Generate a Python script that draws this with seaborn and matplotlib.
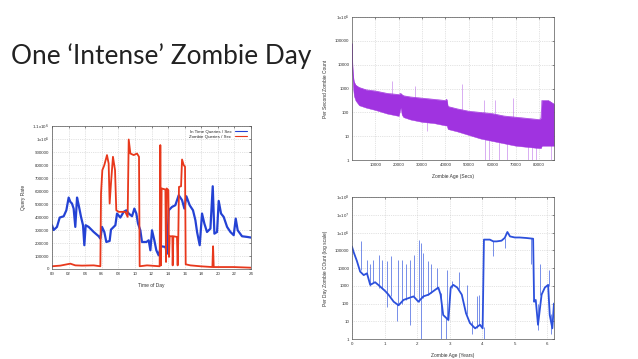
import numpy as np
import matplotlib
matplotlib.use("Agg")
import matplotlib.pyplot as plt
import seaborn as sns

# ---- left chart: query rate over one day (hours, thousands of queries/sec)
blue_hours = [0.0, 0.2, 0.6, 0.93, 1.41, 1.73, 2.01, 2.21, 2.41, 2.61, 2.81, 3.02, 3.22, 3.5,
              3.74, 3.9, 4.06, 4.42, 5.03, 5.63, 5.83, 6.03, 6.31, 6.55, 6.95, 7.11, 7.64, 7.84,
              8.24, 8.64, 8.96, 9.25, 9.65, 9.93, 10.17, 10.37, 10.65, 10.85, 11.38, 11.66, 11.86,
              12.06, 12.34, 12.58, 12.86, 13.14, 13.67, 13.87, 14.07, 14.47, 14.87, 15.28, 15.68,
              15.96, 16.2, 16.6, 17.0, 17.29, 17.49, 17.81, 18.09, 18.37, 18.69, 19.1, 19.38,
              19.58, 19.9, 20.1, 20.38, 20.7, 21.11, 21.51, 21.91, 22.15, 22.39, 22.91, 23.52, 24.0]
blue_rate = [337, 300, 324, 396, 406, 452, 550, 517, 504, 465, 324, 550, 491, 401,
             337, 183, 337, 324, 285, 252, 234, 324, 285, 208, 216, 303, 337, 427,
             396, 440, 452, 427, 406, 465, 427, 350, 298, 208, 208, 221, 144,
             298, 221, 144, 105, 175, 170, 118, 452, 478, 491, 568, 530,
             465, 560, 491, 452, 375, 285, 183, 427, 350, 285, 311, 637,
             272, 285, 524, 427, 401, 324, 285, 260, 388, 298, 252, 247, 242]

red_hours = [0.0, 1.0, 1.8, 2.21, 2.81, 3.62, 5.03, 5.83, 5.91, 6.07, 6.31, 6.63, 6.83, 6.95,
             7.11, 7.35, 7.6, 7.75, 8.04, 8.84, 9.12, 9.25, 9.45, 9.85, 10.25, 10.49, 10.57,
             11.46, 12.98, 13.06, 13.14, 13.22, 13.67, 13.75, 13.83, 14.03, 14.11, 14.19,
             14.51, 14.55, 14.63, 15.07, 15.15, 15.23, 15.31, 15.56, 15.68, 15.88, 16.04,
             16.12, 16.68, 17.89, 19.34, 19.42, 19.5, 21.91, 24.0]
red_rate = [21, 26, 36, 41, 28, 26, 28, 21, 581, 761, 800, 877, 812, 504,
            658, 864, 761, 452, 440, 440, 401, 997, 889, 877, 889, 864, 21,
            28, 21, 954, 28, 620, 612, 54, 620, 607, 93, 252,
            252, 28, 252, 247, 28, 252, 632, 637, 843, 800, 787,
            36, 28, 21, 15, 175, 15, 15, 10]

# ---- top right: per second zombie count (log10 band edges)
sec_age = [0, 150, 400, 800, 1500, 3000, 6000, 10000, 15000, 20000, 20800, 21300, 22000,
           25000, 30000, 35000, 40000, 40500, 41000, 45000, 50000, 55000, 60000, 65000,
           70000, 75000, 80000, 80800, 81200, 84000, 86400]
sec_hi = [4.9, 4.1, 3.6, 3.3, 3.15, 3.05, 2.95, 2.9, 2.8, 2.75, 2.8, 2.75, 2.7,
          2.65, 2.6, 2.55, 2.5, 2.55, 2.25, 2.15, 2.05, 2.0, 1.95, 1.85,
          1.8, 1.75, 1.7, 1.75, 2.5, 2.5, 2.35]
sec_lo = [4.9, 3.8, 3.1, 2.7, 2.5, 2.3, 2.2, 2.1, 1.95, 1.85, 2.2, 1.9, 1.8,
          1.7, 1.6, 1.55, 1.45, 1.45, 1.3, 1.2, 1.05, 0.9, 0.8, 0.7,
          0.6, 0.55, 0.5, 0.5, 0.6, 0.6, 0.6]
sec_spike_x = [17000, 27000, 32000, 47000, 56500, 57000, 58500, 61000, 63000, 66500,
               69000, 75500, 77000, 78500, 85000]
sec_spike_lo = [2.5, 2.2, 1.2, 1.8, 1.0, 0.0, 0.0, 1.0, 0.0, 0.0, 1.0, 0.0, 0.0, 0.0, 0.0]
sec_spike_hi = [3.3, 3.1, 2.5, 3.2, 2.5, 1.5, 1.5, 2.5, 1.5, 1.5, 2.6, 1.5, 1.5, 1.5, 1.5]

# ---- bottom right: per day zombie count (years, log10)
day_age = [0.0, 0.05, 0.15, 0.25, 0.36, 0.46, 0.56, 0.71, 0.87, 1.02, 1.12, 1.28, 1.43, 1.58,
           1.73, 1.89, 2.04, 2.19, 2.35, 2.5, 2.65, 2.72, 2.8, 2.96, 3.03, 3.11, 3.23, 3.37,
           3.5, 3.62, 3.78, 3.93, 4.01, 4.05, 4.23, 4.34, 4.44, 4.59, 4.69, 4.77, 4.85, 5.0,
           5.15, 5.36, 5.56, 5.59, 5.64, 5.71, 5.82, 5.92, 6.02, 6.07, 6.15, 6.2]
day_log = [5.2, 4.9, 4.4, 3.8, 3.6, 3.7, 3.05, 3.2, 2.95, 2.7, 2.5, 2.1, 1.9, 2.2,
           2.3, 2.4, 2.1, 2.4, 2.5, 2.7, 2.9, 2.5, 1.35, 1.07, 2.9, 3.05, 2.9, 2.5,
           1.45, 0.9, 0.6, 0.8, 0.6, 5.6, 5.6, 5.5, 5.5, 5.54, 5.7, 6.03, 5.78, 5.72,
           5.72, 5.69, 5.65, 2.1, 2.2, 0.8, 2.5, 2.9, 3.05, 1.35, 0.6, 2.0]
day_spike_x = [0.28, 0.46, 0.56, 0.66, 0.82, 0.92, 1.07, 1.19, 1.38, 1.4, 1.53, 1.66, 1.77,
               1.79, 1.91, 2.06, 2.11, 2.12, 2.17, 2.32, 2.42, 2.6, 2.72, 2.89, 2.91, 3.06,
               3.27, 3.52, 3.67, 3.83, 3.91, 4.04, 4.34, 4.69, 5.5, 5.71, 5.77, 6.05, 6.12]
day_spike_lo = [3.9, 3.6, 3.0, 3.2, 2.9, 2.8, 1.8, 2.4, 1.0, 1.9, 2.0, 2.2, 2.3,
                0.8, 2.4, 2.1, 2.2, 0.0, 2.3, 2.5, 2.6, 2.8, 0.0, 0.0, 1.1, 2.9,
                2.8, 1.4, 0.3, 0.6, 0.8, 0.0, 4.7, 5.1, 4.2, 0.5, 2.5, 3.0, 0.3]
day_spike_hi = [5.5, 4.45, 4.2, 4.45, 4.75, 4.45, 4.4, 4.65, 2.0, 4.45, 4.45, 4.2, 4.45,
                2.3, 4.75, 5.6, 5.4, 2.2, 4.85, 4.4, 4.2, 4.0, 2.6, 1.2, 3.9, 3.25,
                3.8, 3.05, 1.0, 2.4, 2.5, 0.7, 5.5, 5.7, 5.7, 2.0, 4.2, 3.9, 1.4]

BLUE = "#2442d4"
RED = "#e8381c"
PURPLE = "#a033e0"
BLUE2 = "#2c50dc"
FS = 3.2

sns.set_theme(style="white")
plt.rcParams["font.family"] = ["Liberation Sans", "DejaVu Sans"]

fig = plt.figure(figsize=(6.38, 3.59), dpi=100)
fig.patch.set_facecolor("white")


def gnuplot_style(ax):
    for s in ax.spines.values():
        s.set_linewidth(0.5)
        s.set_color("#555555")
    ax.grid(True, which="major", color="#c8c8c8", linestyle=":", linewidth=0.5)
    ax.minorticks_off()
    ax.tick_params(axis="both", which="major", direction="in", length=1.5, width=0.4,
                   labelsize=FS, colors="#333333", pad=2, top=True, right=True)


fig.text(0.017, 0.822, "One \u2018Intense\u2019 Zombie Day", fontsize=18.9, family="Lato",
         weight="normal", color="#222222", va="baseline")

# left chart
ax1 = fig.add_axes([0.0815, 0.2507, 0.312, 0.398])
sns.lineplot(x=blue_hours, y=np.array(blue_rate) * 1000, ax=ax1, color=BLUE, lw=1.6,
             estimator=None, sort=False, label="In Time Queries / Sec")
sns.lineplot(x=red_hours, y=np.array(red_rate) * 1000, ax=ax1, color=RED, lw=1.3,
             estimator=None, sort=False, label="Zombie Queries / Sec")
ax1.set_xlim(0, 24)
ax1.set_ylim(0, 1.1e6)
ax1.set_xticks(range(0, 25, 2))
ax1.set_xticklabels([f"{h:02d}" for h in range(0, 25, 2)])
yt = np.arange(0, 1.1e6 + 1, 1e5)
ax1.set_yticks(yt)
ax1.set_yticklabels([f"{int(v)}" for v in yt[:-2]] + [r"1x10$^6$", r"1.1x10$^6$"])
ax1.set_xlabel("Time of Day", fontsize=FS + 0.3, color="#333333")
ax1.set_ylabel("Query Rate", fontsize=FS + 0.3, color="#333333")
ax1.xaxis.set_label_coords(0.5, -0.1)
ax1.yaxis.set_label_coords(-0.13, 0.5)
gnuplot_style(ax1)
leg = ax1.legend(loc="upper right", frameon=False, fontsize=FS, markerfirst=False,
                 handlelength=2.8, labelspacing=0.25, borderaxespad=0.4)
for h in leg.get_lines():
    h.set_linewidth(0.8)

# top right chart
ax2 = fig.add_axes([0.5517, 0.5543, 0.3166, 0.398])
sec_t = np.array(sec_age)
ax2.fill_between(sec_t, 10 ** np.array(sec_lo), 10 ** np.array(sec_hi), color=PURPLE, lw=0.3)
sns.lineplot(x=sec_t, y=10 ** np.array(sec_hi), ax=ax2, color=PURPLE, lw=0.4, estimator=None)
ax2.vlines(sec_spike_x, 10 ** np.array(sec_spike_lo), 10 ** np.array(sec_spike_hi),
           color=PURPLE, lw=0.4, alpha=0.7)
ax2.set_yscale("log")
ax2.set_xlim(0, 86400)
ax2.set_ylim(1, 1e6)
ax2.set_xticks(range(10000, 80001, 10000))
ax2.set_xticklabels([str(v) for v in range(10000, 80001, 10000)])
ax2.set_yticks([1, 10, 100, 1000, 1e4, 1e5, 1e6])
ax2.set_yticklabels(["1", "10", "100", "1000", "10000", "100000", r"1x10$^6$"])
ax2.set_xlabel("Zombie Age (Secs)", fontsize=FS + 0.3, color="#333333")
ax2.set_ylabel("Per Second Zombie Count", fontsize=FS + 0.3, color="#333333")
ax2.xaxis.set_label_coords(0.5, -0.1)
ax2.yaxis.set_label_coords(-0.12, 0.5)
gnuplot_style(ax2)

# bottom right chart
ax3 = fig.add_axes([0.5517, 0.0557, 0.3166, 0.3955])
ax3.vlines(day_spike_x, 10 ** np.array(day_spike_lo), 10 ** np.array(day_spike_hi),
           color=BLUE2, lw=0.6, alpha=0.75)
sns.lineplot(x=day_age, y=10 ** np.array(day_log), ax=ax3, color=BLUE2, lw=1.3,
             estimator=None, sort=False)
ax3.set_yscale("log")
ax3.set_xlim(0, 6.2)
ax3.set_ylim(1, 1e8)
ax3.set_xticks(range(0, 7))
ax3.set_yticks([10 ** k for k in range(9)])
ax3.set_yticklabels(["1", "10", "100", "1000", "10000", "100000",
                     r"1x10$^6$", r"1x10$^7$", r"1x10$^8$"])
ax3.set_xlabel("Zombie Age (Years)", fontsize=FS + 0.3, color="#333333")
ax3.set_ylabel("Per Day Zombie COunt (log scale)", fontsize=FS + 0.3, color="#333333")
ax3.xaxis.set_label_coords(0.5, -0.1)
ax3.yaxis.set_label_coords(-0.12, 0.5)
gnuplot_style(ax3)

fig.savefig("out.png", dpi=100, facecolor="white")
